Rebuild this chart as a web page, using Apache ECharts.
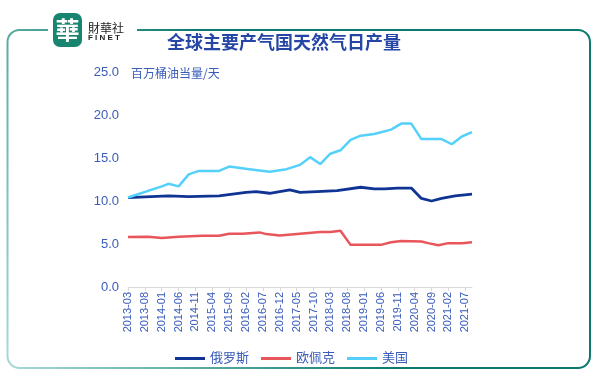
<!DOCTYPE html>
<html>
<head>
<meta charset="utf-8">
<script src="https://cdn.jsdelivr.net/npm/echarts@6/dist/echarts.min.js"></script>
<style>
html,body{margin:0;padding:0;background:#fff;}
#chart{width:598px;height:378px;}
</style>
</head>
<body>
<div id="chart"></div>
<script>
// ---- data ----
var startYear = 2013, startMonth = 3, monthCount = 103; // 2013-03 .. 2021-09
var categories = [];
for (var i = 0; i < monthCount; i++) {
  var m = startMonth - 1 + i;
  var y = startYear + Math.floor(m / 12);
  var mm = (m % 12) + 1;
  categories.push(y + '-' + (mm < 10 ? '0' + mm : mm));
}
var seriesNames = ['俄罗斯', '欧佩克', '美国'];
var russia = [['2013-03',10.4],['2014-03',10.6],['2014-09',10.5],['2015-06',10.6],['2016-02',11.0],['2016-05',11.1],['2016-09',10.9],['2017-03',11.3],['2017-06',11.0],['2017-11',11.1],['2018-05',11.2],['2018-12',11.6],['2019-04',11.4],['2019-07',11.4],['2019-11',11.5],['2020-03',11.5],['2020-06',10.3],['2020-09',10.0],['2020-12',10.3],['2021-04',10.6],['2021-09',10.8]];
var opec = [['2013-03',5.8],['2013-09',5.85],['2014-01',5.7],['2014-06',5.85],['2015-01',5.95],['2015-06',5.95],['2015-09',6.2],['2016-01',6.2],['2016-06',6.35],['2016-08',6.15],['2016-12',6.0],['2017-06',6.2],['2017-12',6.4],['2018-03',6.4],['2018-06',6.55],['2018-09',4.9],['2019-06',4.9],['2019-09',5.2],['2019-12',5.35],['2020-06',5.3],['2020-08',5.1],['2020-11',4.85],['2021-02',5.1],['2021-06',5.1],['2021-09',5.2]];
var usa = [['2013-03',10.4],['2014-01',11.7],['2014-03',12.0],['2014-06',11.7],['2014-09',13.1],['2014-12',13.5],['2015-06',13.5],['2015-09',14.0],['2016-03',13.7],['2016-09',13.4],['2017-02',13.7],['2017-06',14.2],['2017-09',15.1],['2017-12',14.3],['2018-03',15.5],['2018-06',15.9],['2018-09',17.1],['2018-12',17.6],['2019-04',17.8],['2019-09',18.3],['2019-12',19.0],['2020-03',19.0],['2020-06',17.2],['2020-12',17.2],['2021-03',16.6],['2021-06',17.5],['2021-09',18.0]];
var yTicks = [0, 5, 10, 15, 20, 25];
var titleText = '全球主要产气国天然气日产量';
var unitText = '百万桶油当量/天';
var colors = ['#0f3494', '#e8555a', '#55d0fa'];

var chart = echarts.init(document.getElementById('chart'), null, {renderer: 'canvas'});
var txtColor = '#3a5cba';
var font = '"Liberation Sans", Arial, "Noto Sans CJK SC", sans-serif';

function mkSeries(name, data, color, w) {
  return {
    name: name, type: 'line', data: data, showSymbol: false, symbol: 'none',
    connectNulls: true, smooth: false,
    lineStyle: {color: color, width: w}, itemStyle: {color: color},
    emphasis: {disabled: true}
  };
}

var option = {
  animation: false,
  textStyle: {fontFamily: font},
  grid: {left: 128, right: 126, top: 72, bottom: 91, containLabel: false},
  xAxis: {
    type: 'category', data: categories, boundaryGap: false,
    axisLine: {show: true, lineStyle: {color: '#d9d9d9', width: 1}},
    axisTick: {show: true, interval: 4, length: 4, lineStyle: {color: '#d9d9d9'}},
    axisLabel: {interval: 4, rotate: 90, color: txtColor, fontSize: 11, margin: 5, fontFamily: font}
  },
  yAxis: {
    type: 'value', min: yTicks[0], max: yTicks[yTicks.length - 1], interval: 5,
    splitLine: {show: false}, axisLine: {show: false}, axisTick: {show: false},
    axisLabel: {color: txtColor, fontSize: 13, margin: 9, fontFamily: font,
      formatter: function (v) { return v.toFixed(1); }}
  },
  legend: {
    data: seriesNames.map(function (n) { return {name: n, icon: 'rect'}; }),
    left: 170, top: 347, itemWidth: 30, itemHeight: 3, itemGap: 12,
    textStyle: {color: txtColor, fontSize: 13, fontFamily: font}
  },
  series: [
    mkSeries(seriesNames[0], russia, colors[0], 2.8),
    mkSeries(seriesNames[1], opec, colors[1], 2.5),
    mkSeries(seriesNames[2], usa, colors[2], 2.5)
  ],
  graphic: [
    {
      type: 'rect', silent: true, z: 0,
      shape: {x: 7.5, y: 30, width: 582.5, height: 338, r: 12},
      style: {fill: 'none', lineWidth: 2,
        stroke: {type: 'linear', x: 0, y: 1, x2: 0.5, y2: 0.5, global: false,
          colorStops: [{offset: 0, color: '#a8dcd5'}, {offset: 1, color: '#0b7a6e'}]}}
    },
    {type: 'rect', silent: true, z: 1, shape: {x: 48, y: 26, width: 89, height: 8}, style: {fill: '#ffffff'}},
    {type: 'rect', silent: true, z: 2, shape: {x: 53, y: 13, width: 29, height: 34, r: 7}, style: {fill: '#17856f'}},
    {type: 'text', silent: true, z: 3, x: 67.5, y: 30, style: {text: '華', fill: '#ffffff', font: 'bold 24px "Noto Sans CJK TC", serif', textAlign: 'center', textVerticalAlign: 'middle'}},
    {type: 'text', silent: true, z: 3, x: 88, y: 28, style: {text: '財華社', fill: '#222', font: '12px "Noto Sans CJK TC", sans-serif', textVerticalAlign: 'middle'}},
    {type: 'text', silent: true, z: 3, x: 88, y: 38, style: {text: 'F I N E T', fill: '#222', font: 'bold 8px "Liberation Sans", Arial, sans-serif', textVerticalAlign: 'middle'}},
    {type: 'text', silent: true, z: 3, x: 284, y: 42, style: {text: titleText, fill: '#2646a6', font: 'bold 18px "Noto Sans CJK SC", sans-serif', textAlign: 'center', textVerticalAlign: 'middle'}},
    {type: 'text', silent: true, z: 3, x: 131, y: 73, style: {text: unitText, fill: txtColor, font: '12px "Noto Sans CJK SC", sans-serif', textVerticalAlign: 'middle'}}
  ]
};
chart.setOption(option);
</script>
</body>
</html>
